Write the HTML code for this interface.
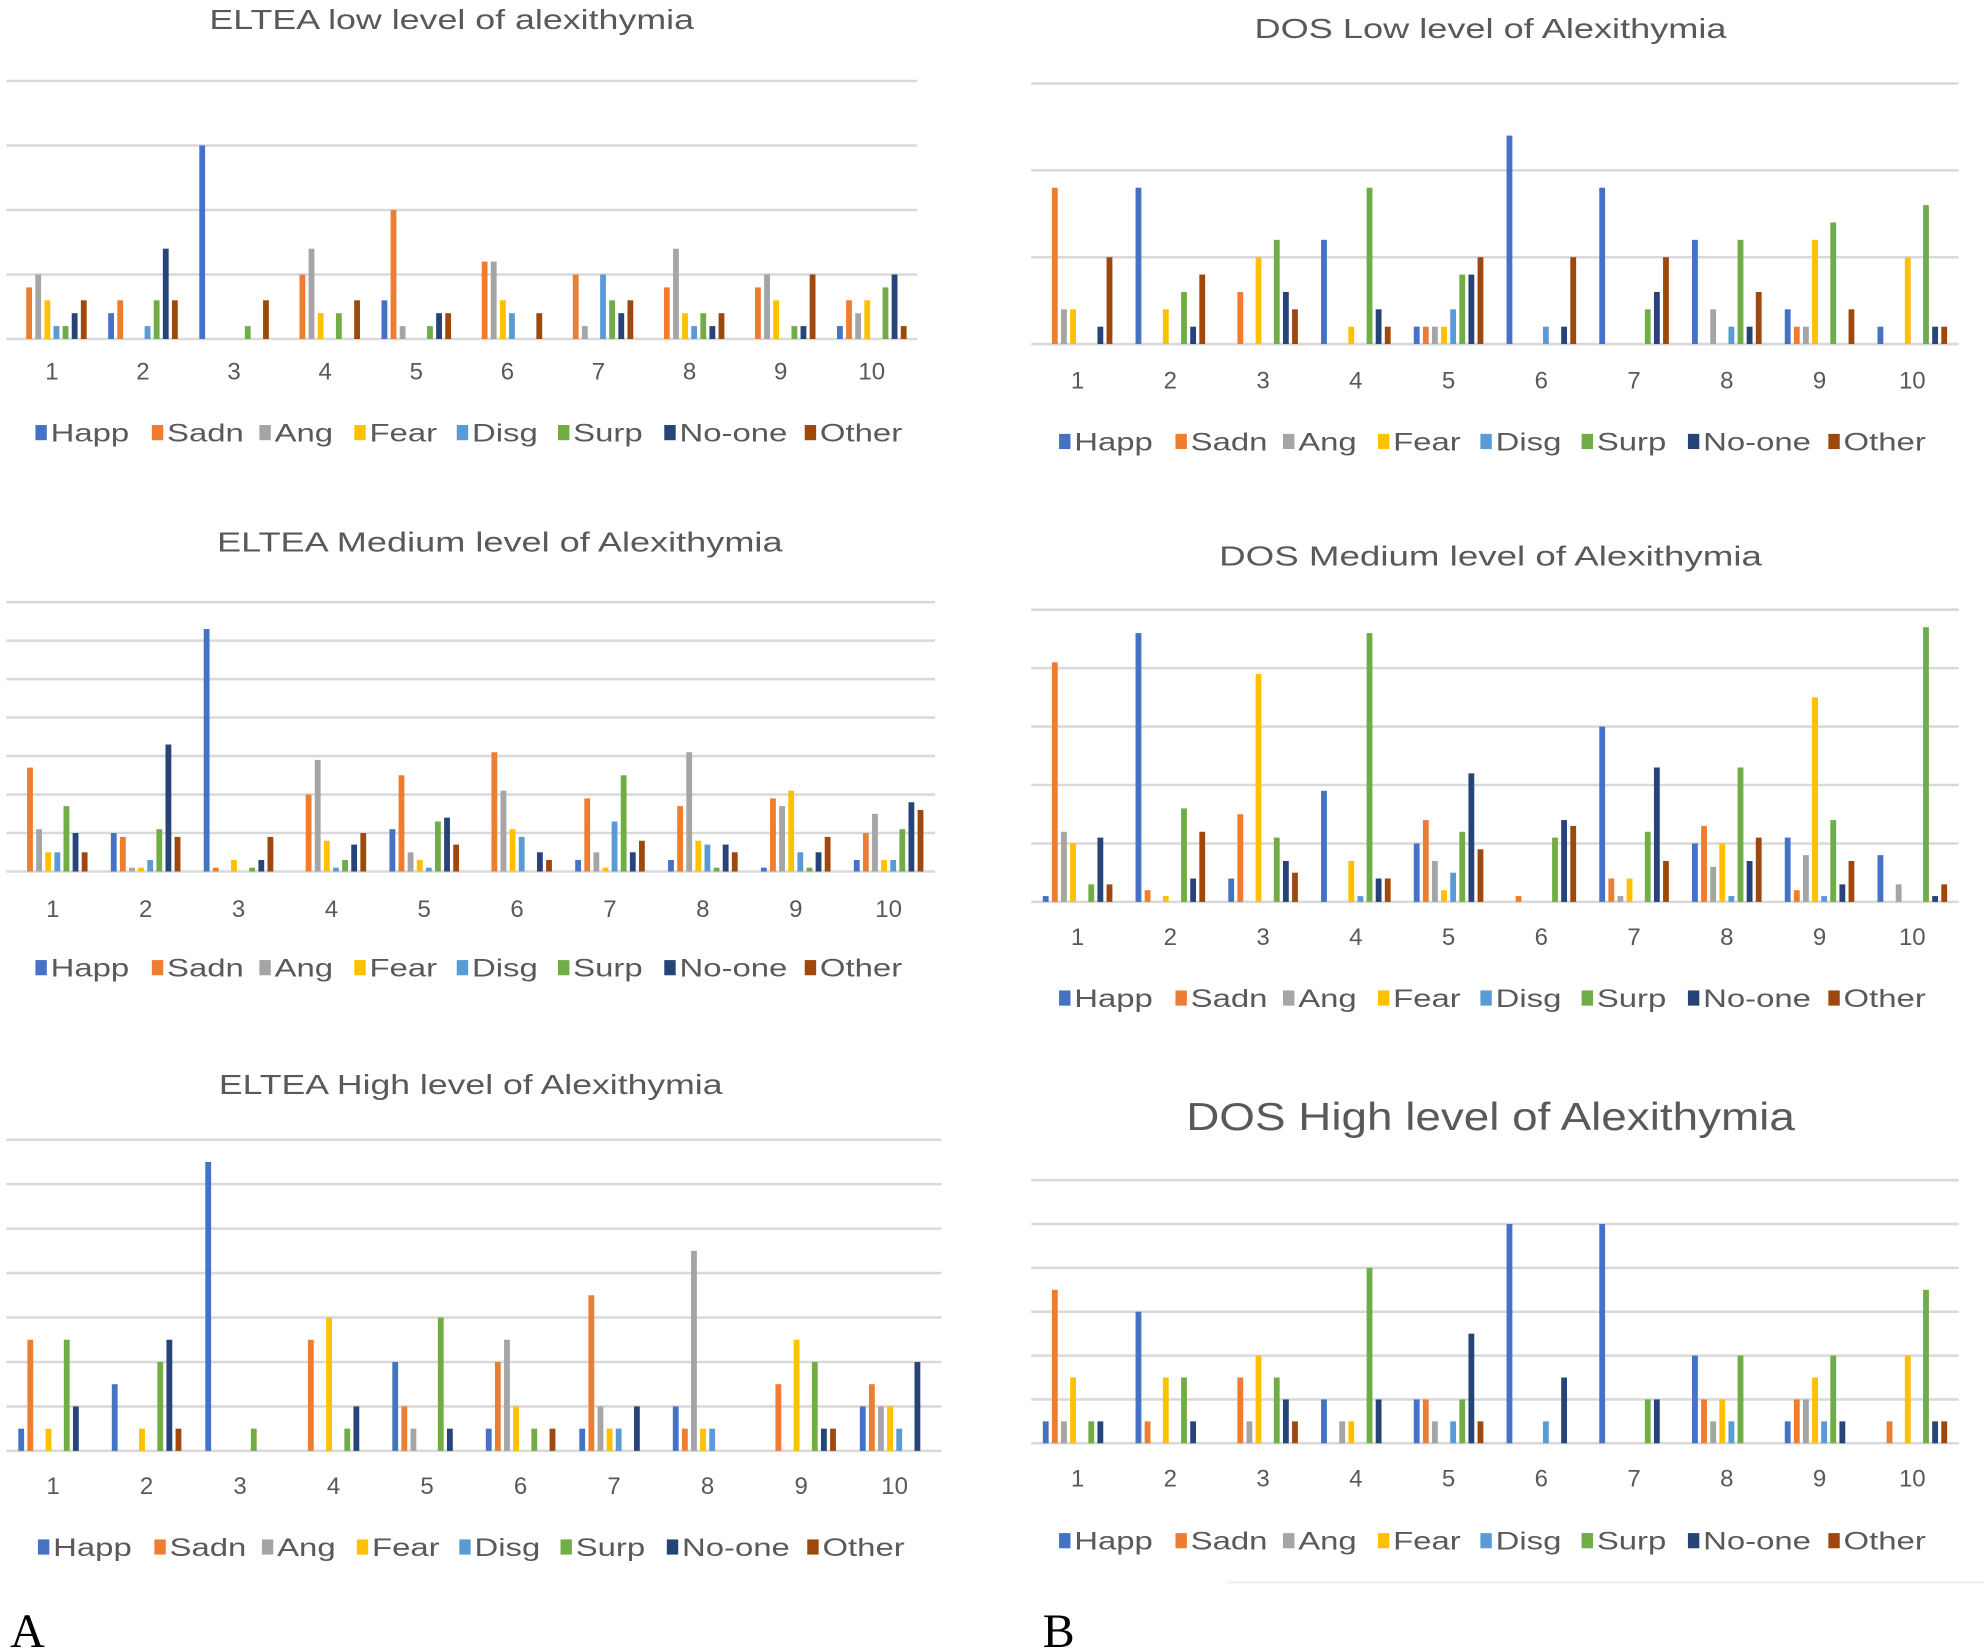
<!DOCTYPE html>
<html><head><meta charset="utf-8"><style>
html,body{margin:0;padding:0;background:#fff;}
svg{display:block;}
text{font-family:"Liberation Sans",sans-serif;fill:#595959;}
</style></head><body>
<svg id="fig" width="1984" height="1652" viewBox="0 0 1568 1306" preserveAspectRatio="none" xmlns="http://www.w3.org/2000/svg">
<text x="8" y="1302" style="font-family:'Liberation Serif',serif;fill:#000;font-size:38px">A</text>
<text x="824" y="1302" style="font-family:'Liberation Serif',serif;fill:#000;font-size:38px">B</text>
<line x1="970" y1="1251" x2="1568" y2="1251" stroke="#eeeeee" stroke-width="1.5"/>
</svg>
<script>
const categories = ["1","2","3","4","5","6","7","8","9","10"];
const seriesNames = ["Happ","Sadn","Ang","Fear","Disg","Surp","No-one","Other"];
const seriesColors = ["#4472C4","#ED7D31","#A5A5A5","#FFC000","#5B9BD5","#70AD47","#264478","#9E480E"];

// ELTEA low (rows = series, columns = categories)
const elteaLowHapp  = [0,2,15,0,3,0,0,0,0,1];
const elteaLowSadn  = [4,3,0,5,10,6,5,4,4,3];
const elteaLowAng   = [5,0,0,7,1,6,1,7,5,2];
const elteaLowFear  = [3,0,0,2,0,3,0,2,3,3];
const elteaLowDisg  = [1,1,0,0,0,2,5,1,0,0];
const elteaLowSurp  = [1,3,1,2,1,0,3,2,1,4];
const elteaLowNo    = [2,7,0,0,2,0,2,1,1,5];
const elteaLowOther = [3,3,3,3,2,2,3,2,5,1];

// DOS low
const dosLowHapp  = [0,9,0,6,1,12,9,6,2,1];
const dosLowSadn  = [9,0,3,0,1,0,0,0,1,0];
const dosLowAng   = [2,0,0,0,1,0,0,2,1,0];
const dosLowFear  = [2,2,5,1,1,0,0,0,6,5];
const dosLowDisg  = [0,0,0,0,2,1,0,1,0,0];
const dosLowSurp  = [0,3,6,9,4,0,2,6,7,8];
const dosLowNo    = [1,1,3,2,4,1,3,1,0,1];
const dosLowOther = [5,4,2,1,5,5,5,3,2,1];

// ELTEA medium
const elteaMedHapp  = [0,10,63,0,11,0,3,3,1,3];
const elteaMedSadn  = [27,9,1,20,25,31,19,17,19,10];
const elteaMedAng   = [11,1,0,29,5,21,5,31,17,15];
const elteaMedFear  = [5,1,3,8,3,11,1,8,21,3];
const elteaMedDisg  = [5,3,0,1,1,9,13,7,5,3];
const elteaMedSurp  = [17,11,1,3,13,0,25,1,1,11];
const elteaMedNo    = [10,33,3,7,14,5,5,7,5,18];
const elteaMedOther = [5,9,9,10,7,3,8,5,9,16];

// DOS medium
const dosMedHapp  = [1,46,4,19,10,0,30,10,11,8];
const dosMedSadn  = [41,2,15,0,14,1,4,13,2,0];
const dosMedAng   = [12,0,0,0,7,0,1,6,8,3];
const dosMedFear  = [10,1,39,7,2,0,4,10,35,0];
const dosMedDisg  = [0,0,0,1,5,0,0,1,1,0];
const dosMedSurp  = [3,16,11,46,12,11,12,23,14,47];
const dosMedNo    = [11,4,7,4,22,14,23,7,3,1];
const dosMedOther = [3,12,5,4,9,13,7,11,7,3];

// ELTEA high
const elteaHighHapp  = [1,3,13,0,4,1,1,2,0,2];
const elteaHighSadn  = [5,0,0,5,2,4,7,1,3,3];
const elteaHighAng   = [0,0,0,0,1,5,2,9,0,2];
const elteaHighFear  = [1,1,0,6,0,2,1,1,5,2];
const elteaHighDisg  = [0,0,0,0,0,0,1,1,0,1];
const elteaHighSurp  = [5,4,1,1,6,1,0,0,4,0];
const elteaHighNo    = [2,5,0,2,1,0,2,0,1,4];
const elteaHighOther = [0,1,0,0,0,1,0,0,1,0];

// DOS high
const dosHighHapp  = [1,6,0,2,2,10,10,4,1,0];
const dosHighSadn  = [7,1,3,0,2,0,0,2,2,1];
const dosHighAng   = [1,0,1,1,1,0,0,1,2,0];
const dosHighFear  = [3,3,4,1,0,0,0,2,3,4];
const dosHighDisg  = [0,0,0,0,1,1,0,1,1,0];
const dosHighSurp  = [1,3,3,8,2,0,2,4,4,7];
const dosHighNo    = [1,1,2,2,5,3,2,0,1,1];
const dosHighOther = [0,0,1,0,1,0,0,0,0,1];

const NS = "http://www.w3.org/2000/svg";
const svg = document.getElementById('fig');
function mk(tag, attrs, parent){
  const e = document.createElementNS(NS, tag);
  for (const k in attrs) e.setAttribute(k, attrs[k]);
  (parent||svg).appendChild(e);
  return e;
}

const panels = [
 {id:"eltea-low", title:"ELTEA low level of alexithymia", tx:357, ty:15, tfs:22, tw:383, x0:5, x1:725, base:268, top:64, lines:4, step:5,
  series:[elteaLowHapp,elteaLowSadn,elteaLowAng,elteaLowFear,elteaLowDisg,elteaLowSurp,elteaLowNo,elteaLowOther], ly:293, gy:342, gx:28},
 {id:"dos-low", title:"DOS Low level of Alexithymia", tx:1178, ty:22, tfs:22, tw:373, x0:815, x1:1548, base:272, top:66, lines:3, step:5,
  series:[dosLowHapp,dosLowSadn,dosLowAng,dosLowFear,dosLowDisg,dosLowSurp,dosLowNo,dosLowOther], ly:300, gy:349, gx:837},
 {id:"eltea-medium", title:"ELTEA Medium level of Alexithymia", tx:395, ty:428, tfs:22, tw:447, x0:5, x1:739, base:689, top:476, lines:7, step:10,
  series:[elteaMedHapp,elteaMedSadn,elteaMedAng,elteaMedFear,elteaMedDisg,elteaMedSurp,elteaMedNo,elteaMedOther], ly:718, gy:765, gx:28},
 {id:"dos-medium", title:"DOS Medium level of Alexithymia", tx:1178, ty:439, tfs:22, tw:429, x0:815, x1:1548, base:713, top:482, lines:5, step:10,
  series:[dosMedHapp,dosMedSadn,dosMedAng,dosMedFear,dosMedDisg,dosMedSurp,dosMedNo,dosMedOther], ly:740, gy:789, gx:837},
 {id:"eltea-high", title:"ELTEA High level of Alexithymia", tx:372, ty:857, tfs:22, tw:398, x0:5, x1:744, base:1147, top:901, lines:7, step:2,
  series:[elteaHighHapp,elteaHighSadn,elteaHighAng,elteaHighFear,elteaHighDisg,elteaHighSurp,elteaHighNo,elteaHighOther], ly:1174, gy:1223, gx:30},
 {id:"dos-high", title:"DOS High level of Alexithymia", tx:1178, ty:882, tfs:31, tw:481, x0:815, x1:1548, base:1141, top:933, lines:6, step:2,
  series:[dosHighHapp,dosHighSadn,dosHighAng,dosHighFear,dosHighDisg,dosHighSurp,dosHighNo,dosHighOther], ly:1168, gy:1218, gx:837}
];
const legendOffsets = [0,92,177,252,333,413,497,608];

panels.forEach(p => {
  const g = mk('g', {});
  
  
  const t = mk('text', {x:p.tx - p.tw/2, y:p.ty + p.tfs*0.36, 'font-size':p.tfs, textLength:p.tw, lengthAdjust:'spacingAndGlyphs'}, g);
  t.textContent = p.title;
  
  
  const max = p.lines * p.step;
  const yScale = v => p.base - (v / max) * (p.base - p.top);
  for (let i = 0; i <= p.lines; i++) {
    const y = yScale(i * p.step);
    const ln = mk('line', {x1:p.x0, x2:p.x1, y1:y, y2:y, stroke:'#d9d9d9', 'stroke-width':2}, g);
    
    
  }
  const cw = (p.x1 - p.x0) / categories.length;
  const xCenter = i => p.x0 + cw * (i + 0.5);
  const slot = 7.2, bw = 4.6;
  categories.forEach((c, ci) => {
    const lb = mk('text', {x:xCenter(ci), y:p.ly + 7, 'text-anchor':'middle', 'font-size':19}, g);
    lb.textContent = c;
    
    
    p.series.forEach((arr, si) => {
      const v = arr[ci];
      if (!v) return;
      const x = xCenter(ci) + (si - 3.5) * slot - bw / 2;
      const y = yScale(v);
      const r = mk('rect', {x:x, y:y, width:bw, height:p.base - y, fill:seriesColors[si]}, g);
      
      
    });
  });
  seriesNames.forEach((n, si) => {
    const lx = p.gx + legendOffsets[si];
    const lg = mk('g', {}, g);
    
    
    mk('rect', {x:lx, y:p.gy - 6, width:9, height:12, fill:seriesColors[si]}, lg);
    const lt = mk('text', {x:0, y:0, 'font-size':20, transform:'translate(' + (lx + 12) + ',' + (p.gy + 7) + ') scale(1.3,1)'}, lg);
    lt.textContent = n;
  });
});
</script>
</body></html>
